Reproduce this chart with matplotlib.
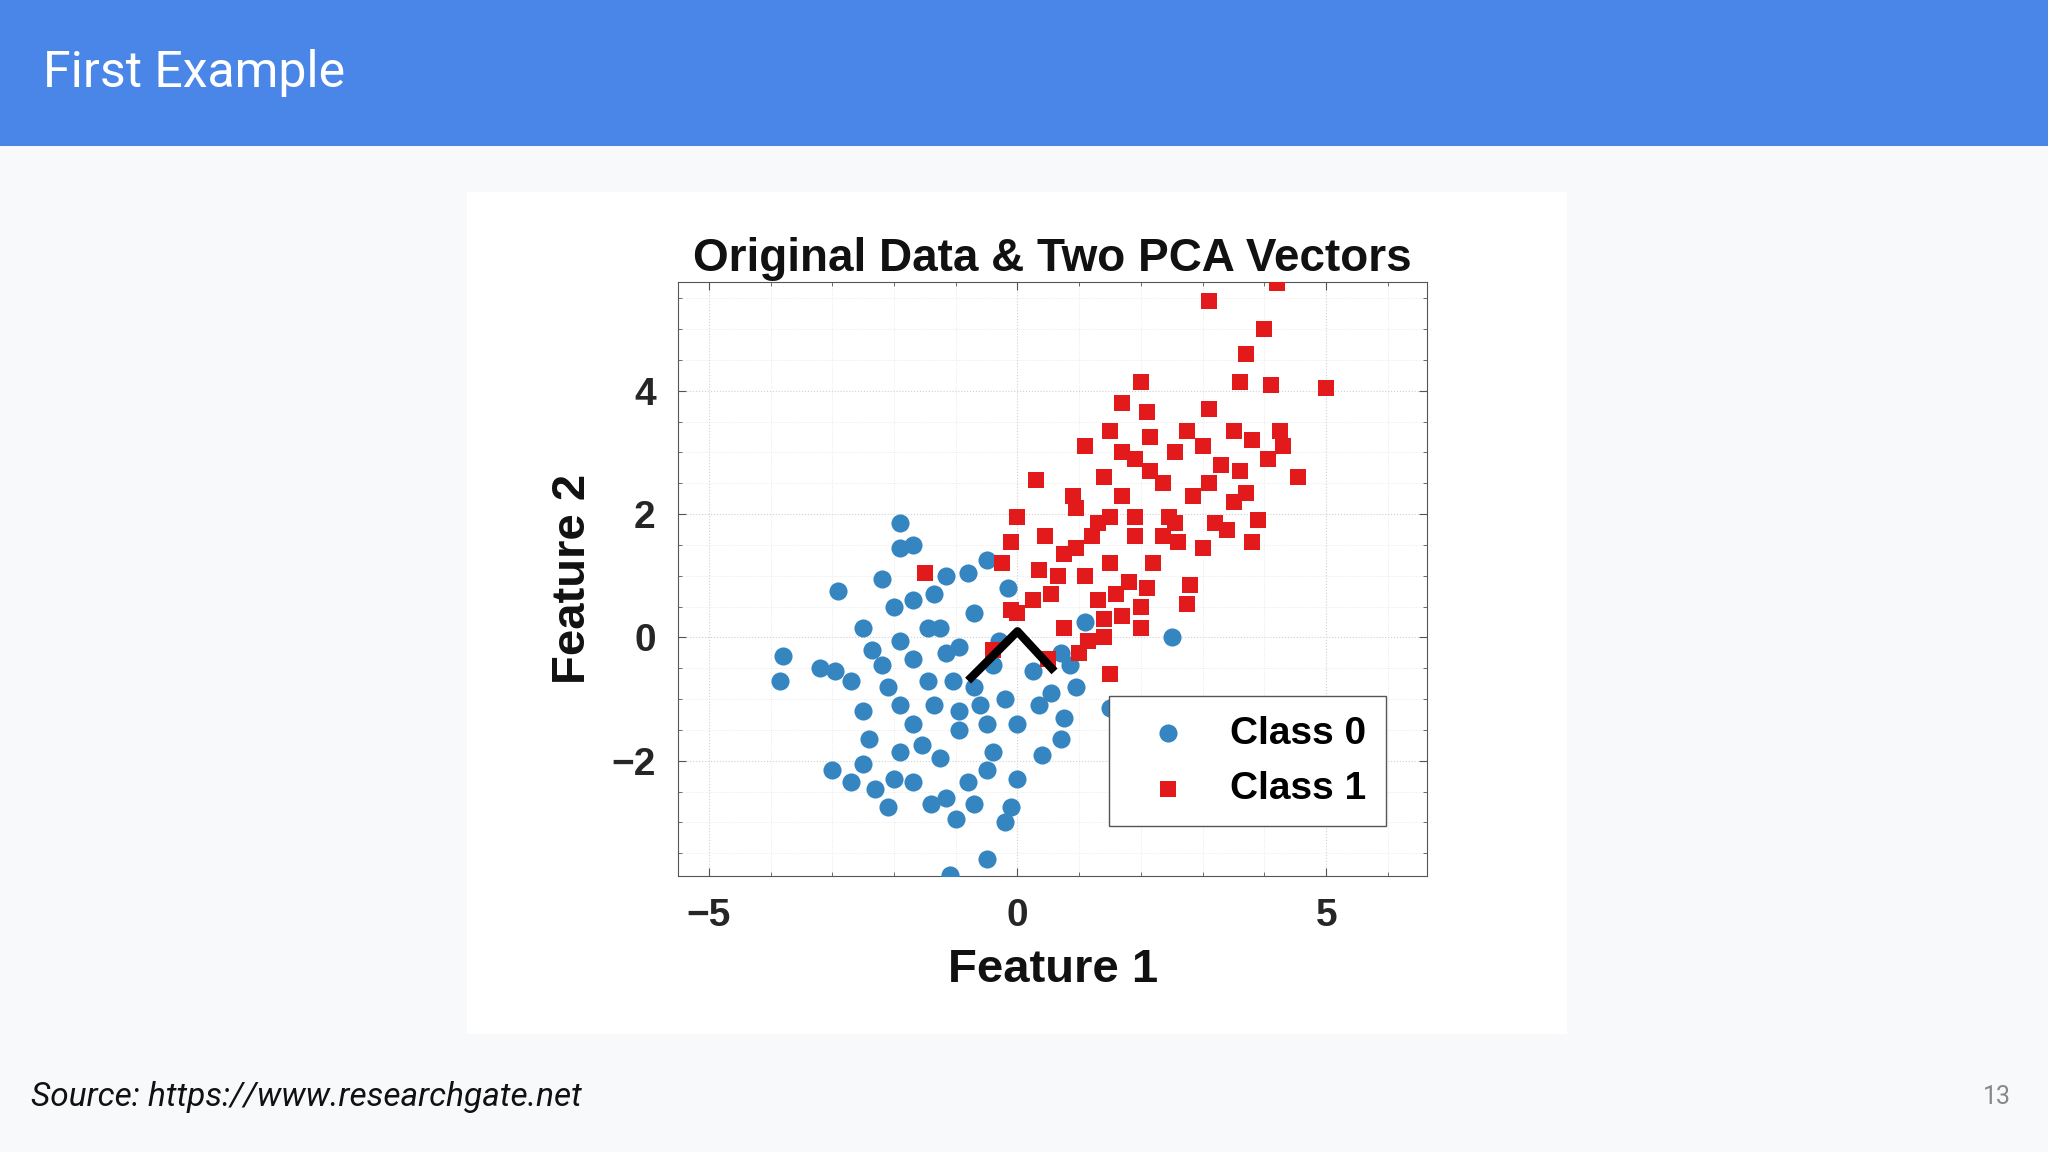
import numpy as np
import matplotlib
matplotlib.use("Agg")
import matplotlib.pyplot as plt
from matplotlib.patches import Rectangle

# --- data --------------------------------------------------------------
class0_x = [-3.8, -3.85, -3.2, -2.9, -1.9, -1.7, -2.2, -3.0, -2.7, -2.3, -2.0, -2.1, -1.4,
            -1.1, -0.5, -1.0, -0.2, -0.1, 0.0, 0.4, 0.7, 1.5, 1.1, 2.5, 0.95, 0.7, -0.5,
            -0.8, -1.15, -0.15, -2.5, -2.35, -2.7, -2.5, -2.4, -1.9, -1.7, -1.45, -1.25,
            -0.95, -0.7, -0.4, -0.6, -0.95, -1.25, -1.55, -1.9, -0.4, 0.0, 0.35, 0.25,
            -0.2, -0.8, -0.5, -1.7, -2.0, -1.35, -1.05, -0.7, -2.1, -1.9, -1.15, -2.5,
            -2.95, -1.35, -0.3, 0.55, 0.85, -1.7, -1.15, -0.7, -1.9, -1.45, -2.2, -0.5,
            -0.95, -1.7, 0.75]
class0_y = [-0.3, -0.7, -0.5, 0.75, 1.85, 1.5, 0.95, -2.15, -2.35, -2.45, -2.3, -2.75, -2.7,
            -3.85, -3.6, -2.95, -3.0, -2.75, -2.3, -1.9, -1.65, -1.15, 0.25, 0.0, -0.8, -0.25,
            1.25, 1.05, 1.0, 0.8, 0.15, -0.2, -0.7, -1.2, -1.65, -1.1, -0.35, -0.7, 0.15,
            -0.15, 0.4, -0.45, -1.1, -1.5, -1.95, -1.75, -1.85, -1.85, -1.4, -1.1, -0.55,
            -1.0, -2.35, -2.15, 0.6, 0.5, 0.7, -0.7, -0.8, -0.8, -0.05, -0.25, -2.05,
            -0.55, -1.1, -0.05, -0.9, -0.45, -2.35, -2.6, -2.7, 1.45, 0.15, -0.45, -1.4,
            -1.2, -1.4, -1.3]

class1_x = [4.2, 3.1, 4.0, 3.7, 5.0, 4.1, 3.6, 2.0, 1.7, 2.1, 3.1, 3.5, 4.3, 4.55, 3.9, 3.8,
            2.75, 2.8, 1.7, 2.0, 1.4, 1.15, 1.0, 0.75, 1.5, 0.3, 0.0, -0.1, -0.25, -1.5, -0.1,
            1.1, 1.5, 0.9, 0.45, 0.35, 0.55, 0.25, 0.95, 1.3, 1.7, 2.15, 2.55, 3.0, 3.3, 3.6,
            4.05, 2.85, 2.45, 1.9, 1.5, 1.1, 1.8, 2.2, 2.6, 3.2, 3.5, 2.35, 1.9, 1.4, 0.95,
            0.75, 1.6, 1.3, 2.1, 2.55, 3.1, 3.8, 4.25, 2.75, 2.15, 1.7, 1.2, 0.65, 1.9, 2.35,
            3.0, 3.4, 3.7, 2.0, 1.4, -0.4, 0.5, 0.0, 1.5]
class1_y = [5.75, 5.45, 5.0, 4.6, 4.05, 4.1, 4.15, 4.15, 3.8, 3.65, 3.7, 3.35, 3.1, 2.6, 1.9,
            1.55, 0.55, 0.85, 0.35, 0.15, 0.0, -0.05, -0.25, 0.15, -0.6, 2.55, 1.95, 1.55,
            1.2, 1.05, 0.45, 3.1, 3.35, 2.3, 1.65, 1.1, 0.7, 0.6, 1.45, 1.85, 2.3, 2.7, 3.0,
            3.1, 2.8, 2.7, 2.9, 2.3, 1.95, 1.65, 1.2, 1.0, 0.9, 1.2, 1.55, 1.85, 2.2, 2.5,
            2.9, 2.6, 2.1, 1.35, 0.7, 0.6, 0.8, 1.85, 2.5, 3.2, 3.35, 3.35, 3.25, 3.0, 1.65,
            1.0, 1.95, 1.65, 1.45, 1.75, 2.35, 0.5, 0.3, -0.2, -0.35, 0.4, 1.95]

pca_x = [-0.8, 0.0, 0.6]
pca_y = [-0.7, 0.1, -0.55]

BLUE = "#3585c1"
RED = "#e31a1c"
BOLD = {"family": ["Liberation Sans", "DejaVu Sans"], "weight": "bold"}

fig = plt.figure(figsize=(20.48, 11.52), dpi=100, facecolor="#f8f9fa")

# header band and white panel, kept behind the axes
fig.patches.append(Rectangle((0, 0.873), 1, 0.127, transform=fig.transFigure,
                             facecolor="#4a86e8", edgecolor="none", zorder=-2))
fig.patches.append(Rectangle((0.228, 0.102), 0.537, 0.731, transform=fig.transFigure,
                             facecolor="white", edgecolor="none", zorder=-2))
fig.text(0.021, 0.937, "First Example", color="white", fontsize=36,
         family="Roboto", va="center")

ax = fig.add_axes([0.331, 0.240, 0.366, 0.515])
ax.scatter(class0_x, class0_y, s=170, marker="o", color=BLUE, linewidths=0,
           label="Class 0", zorder=3)
ax.scatter(class1_x, class1_y, s=120, marker="s", color=RED, linewidths=0,
           label="Class 1", zorder=3)
ax.plot(pca_x, pca_y, color="black", lw=6, zorder=4, solid_capstyle="butt")

ax.set_xlim(-5.5, 6.64)
ax.set_ylim(-3.86, 5.76)
ax.set_xticks([-5, 0, 5])
ax.set_yticks([-2, 0, 2, 4])
ax.minorticks_on()
ax.grid(which="major", color="#d0d0d0", lw=0.8, ls=":")
ax.grid(which="minor", color="#e4e4e4", lw=0.6, ls=":")
ax.set_axisbelow(True)
ax.tick_params(which="both", direction="in", top=True, right=True, color="#555555")
ax.tick_params(which="major", length=6, labelsize=28, pad=16)
ax.tick_params(which="minor", length=3)
for lab in ax.get_xticklabels() + ax.get_yticklabels():
    lab.set_fontfamily(BOLD["family"])
    lab.set_fontweight("bold")
    lab.set_color("#262626")
for sp in ax.spines.values():
    sp.set_color("#555555")

ax.set_title("Original Data & Two PCA Vectors", fontsize=33, pad=8, color="#111111", **BOLD)
ax.set_xlabel("Feature 1", fontsize=34, labelpad=10, color="#111111", **BOLD)
ax.set_ylabel("Feature 2", fontsize=34, labelpad=12, color="#111111", **BOLD)

ax.legend(loc="lower right", bbox_to_anchor=(0.97, 0.05),
          prop={"family": BOLD["family"], "weight": "bold", "size": 28},
          fancybox=False, edgecolor="#555555", framealpha=1,
          handletextpad=0.6, borderpad=0.5, labelspacing=0.5)

fig.text(0.015, 0.048, "Source: https://www.researchgate.net", fontsize=24,
         style="italic", family="Roboto", color="#111111", va="center")
fig.text(0.982, 0.048, "13", fontsize=18, family="Roboto", color="#888888",
         ha="right", va="center")

fig.savefig("out.png", dpi=100, facecolor=fig.get_facecolor())
